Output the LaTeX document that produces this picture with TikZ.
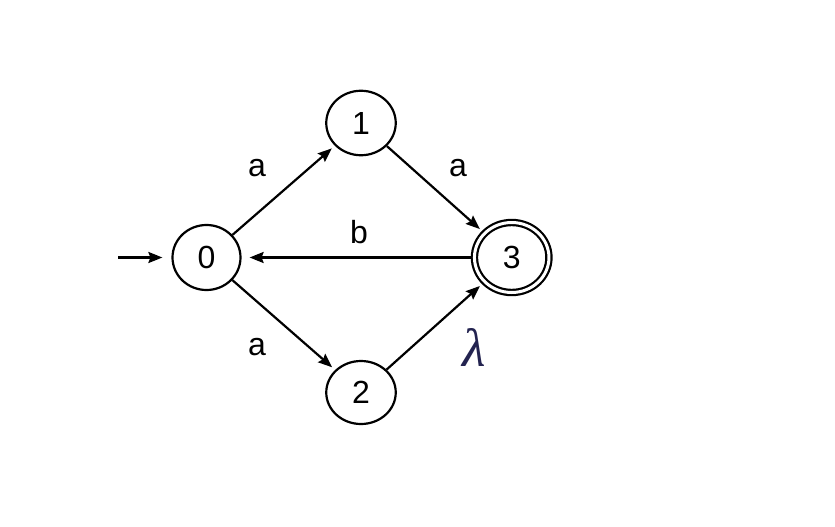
\documentclass[tikz,border=0pt]{standalone}
\usepackage{fontspec}
\setmainfont{Liberation Sans}
\newfontfamily\lamfont{Liberation Serif}
\usetikzlibrary{arrows.meta,shapes.geometric}
\definecolor{lamcol}{RGB}{35,35,80}
\begin{document}
\begin{tikzpicture}[x=1pt,y=-1pt,
  state/.style={draw,ellipse,line width=2.2pt,inner sep=0pt,font=\fontsize{32}{32}\selectfont},
  edge/.style={-{Stealth[length=14pt,width=11pt,inset=2pt]},line width=2.2pt},
  lbl/.style={font=\fontsize{32}{32}\selectfont,inner sep=0pt}]
\useasboundingbox (0,0) rectangle (835,527);
\fill[white] (0,0) rectangle (835,527);
\node[state,minimum width=68pt,minimum height=65pt] (q0) at (206.5,257.5) {0};
\node[state,minimum width=69.5pt,minimum height=64.5pt] (q1) at (361,123) {1};
\node[state,minimum width=69.5pt,minimum height=63pt] (q2) at (361,392.5) {2};
\node[state,double,double distance=3pt,outer sep=3.5pt,minimum width=74.5pt,minimum height=70pt] (q3) at (511.7,257.5) {3};
\coordinate (s) at (118,257.5);
\draw[edge,shorten >=9pt] (s) -- (q0);
\draw[edge,shorten >=4pt] (q0) -- (q1);
\draw[edge,shorten >=3pt] (q1) -- (q3);
\draw[edge,shorten >=4pt] (q0) -- (q2);
\draw[edge,shorten >=3pt] (q2) -- (q3);
\draw[edge,shorten >=8pt] (q3) -- (q0);
\node[lbl] (la1) at (257,168) {a};
\node[lbl] (la2) at (458,168) {a};
\node[lbl] (lb) at (359,232) {b};
\node[lbl] (la3) at (257,347) {a};
\node[text=lamcol,inner sep=0pt,font=\lamfont\itshape\fontsize{54}{54}\selectfont] (lam) at (474,347) {λ};
\end{tikzpicture}
\end{document}
